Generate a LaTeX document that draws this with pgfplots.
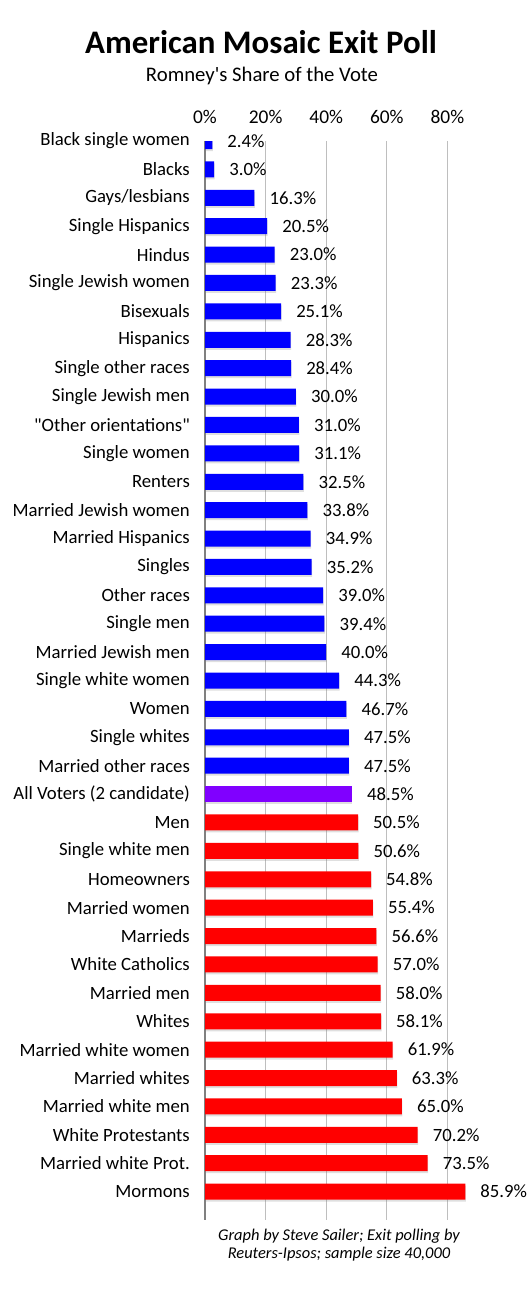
\documentclass[border=0pt]{standalone}
\usepackage{fontspec}
\setmainfont{Carlito}
\newfontfamily\plainfont{Carlito}
\usepackage{pgfplots}
\pgfplotsset{compat=1.18}
\usetikzlibrary{shadows}

\definecolor{demblue}{RGB}{0,0,255}
\definecolor{allpurple}{RGB}{128,0,255}
\definecolor{repred}{RGB}{255,0,0}
\definecolor{gridgray}{RGB}{190,190,190}
\definecolor{axisgray}{RGB}{128,128,128}

% Romney's share (%), index 0 = top row
\pgfplotstableread{
idx share
0  2.4
1  3.0
2  16.3
3  20.5
4  23.0
5  23.3
6  25.1
7  28.3
8  28.4
9  30.0
10 31.0
11 31.1
12 32.5
13 33.8
14 34.9
15 35.2
16 39.0
17 39.4
18 40.0
19 44.3
20 46.7
21 47.5
22 47.5
}\bluetab
\pgfplotstableread{
idx share
23 48.5
}\purpletab
\pgfplotstableread{
idx share
24 50.5
25 50.6
26 54.8
27 55.4
28 56.6
29 57.0
30 58.0
31 58.1
32 61.9
33 63.3
34 65.0
35 70.2
36 73.5
37 85.9
}\redtab

\begin{document}
\begin{tikzpicture}[x=1bp,y=1bp]
\useasboundingbox (0,0) rectangle (528,1295);

\node[font=\fontsize{33}{37}\selectfont\bfseries, anchor=base] at (261,1241) {American Mosaic Exit Poll};
\node[font=\fontsize{20.8}{24}\selectfont\plainfont, anchor=base] at (262,1213) {Romney's Share of the Vote};

\begin{axis}[
  at={(205bp,75bp)}, anchor=south west,
  scale only axis,
  width=272.7bp, height=1079bp,
  xbar, bar width=16bp, bar shift=0pt,
  xmin=0, xmax=90,
  ymin=0, ymax=38,
  y dir=reverse,
  clip=true,
  axis x line*=top,
  axis y line*=left,
  x axis line style={draw=none},
  y axis line style={draw=axisgray, line width=1.2bp},
  xtick={0,20,40,60,80},
  xticklabels={0\%,20\%,40\%,60\%,80\%},
  xmajorgrids=true,
  grid style={draw=gridgray, line width=1bp},
  major tick length=0pt,
  ytick={0,...,37},
  yticklabels={
    Black single women, Blacks, Gays/lesbians, Single Hispanics, Hindus,
    Single Jewish women, Bisexuals, Hispanics, Single other races,
    Single Jewish men, {\plainfont"Other orientations"}, Single women, Renters,
    Married Jewish women, Married Hispanics, Singles, Other races,
    Single men, Married Jewish men, Single white women, Women,
    Single whites, Married other races, All Voters (2 candidate), Men,
    Single white men, Homeowners, Married women, Marrieds,
    White Catholics, Married men, Whites, Married white women,
    Married whites, Married white men, White Protestants,
    Married white Prot., Mormons},
  yticklabel style={font=\fontsize{18.8}{21}\selectfont, inner sep=0pt, xshift=-15bp},
  xticklabel style={font=\fontsize{19.5}{22}\selectfont, inner sep=0pt, yshift=17bp},
  point meta=x,
  nodes near coords={\pgfmathprintnumber[fixed,fixed zerofill,precision=1]{\pgfplotspointmeta}\%},
  every node near coord/.append style={font=\fontsize{18.8}{21}\selectfont, inner sep=0pt, anchor=west, xshift=15bp},
  /pgf/number format/assume math mode=true,
]
\addplot[fill=demblue, draw=none, drop shadow={shadow xshift=0.5bp, shadow yshift=-2bp, opacity=0.25}] table[x=share, y=idx] {\bluetab};
\addplot[fill=allpurple, draw=none, drop shadow={shadow xshift=0.5bp, shadow yshift=-2bp, opacity=0.25}] table[x=share, y=idx] {\purpletab};
\addplot[fill=repred, draw=none, drop shadow={shadow xshift=0.5bp, shadow yshift=-2bp, opacity=0.25}] table[x=share, y=idx] {\redtab};
\end{axis}

\node[font=\fontsize{16.5}{19}\selectfont\itshape, align=center, anchor=base] at (339,36) {Graph by Steve Sailer; Exit polling by\\Reuters-Ipsos; sample size 40,000};
\end{tikzpicture}
\end{document}
